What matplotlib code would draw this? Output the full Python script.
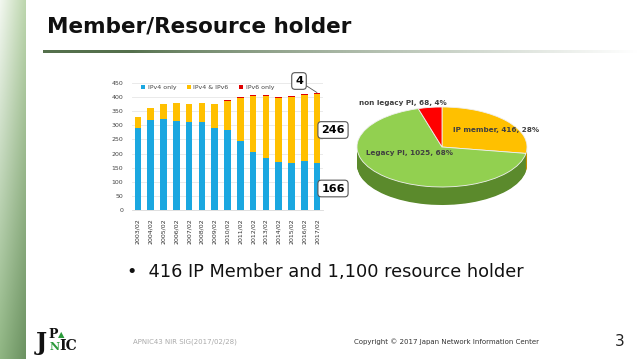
import numpy as np
import matplotlib
matplotlib.use("Agg")
import matplotlib.pyplot as plt

# ---------------- data ----------------
years = ["2003/02", "2004/02", "2005/02", "2006/02", "2007/02", "2008/02", "2009/02",
         "2010/02", "2011/02", "2012/02", "2013/02", "2014/02", "2015/02", "2016/02", "2017/02"]
ipv4_only = [292, 320, 321, 314, 311, 311, 291, 282, 244, 206, 184, 170, 168, 174, 166]
ipv4_ipv6 = [36, 43, 55, 64, 66, 69, 85, 105, 154, 197, 219, 227, 232, 233, 246]
ipv6_only = [0, 0, 0, 0, 0, 0, 0, 2, 2, 3, 3, 3, 3, 3, 4]
series_names = ["IPv4 only", "IPv4 & IPv6", "IPv6 only"]
y_ticks = [0, 50, 100, 150, 200, 250, 300, 350, 400, 450]

pie_labels = ["IP member", "Legacy PI", "non legacy PI"]
pie_values = [416, 1025, 68]
pie_pct = ["28%", "68%", "4%"]

W, H = 638, 359
fig = plt.figure(figsize=(W / 100, H / 100), dpi=100)
fig.patch.set_facecolor("white")

def fbox(l, t, r, b):
    return [l / W, 1 - b / H, (r - l) / W, (b - t) / H]

# ---------------- background decorations (pixel coords) ----------------
bg = fig.add_axes([0, 0, 1, 1])
bg.axis("off")

# left gradient bar
ny, nx = 200, 30
ty = np.linspace(0, 1, ny)[:, None]
tx = np.linspace(0, 1, nx)[None, :]
top_l = np.array([0.95, 0.97, 0.94]); top_r = np.array([0.74, 0.84, 0.68])
bot_l = np.array([0.56, 0.71, 0.51]); bot_r = np.array([0.42, 0.57, 0.38])
img = ((1 - ty) * (1 - tx))[..., None] * top_l + ((1 - ty) * tx)[..., None] * top_r \
    + (ty * (1 - tx))[..., None] * bot_l + (ty * tx)[..., None] * bot_r
bg.imshow(img, extent=(0, 26, H, 0), aspect="auto", interpolation="bilinear")

# title underline gradient
lx = np.linspace(0, 1, 300)
f = np.clip((lx - 0.15) / 0.85, 0, 1) ** 0.8
c0 = np.array([0.33, 0.44, 0.30]); c1 = np.array([1.0, 1.0, 1.0])
line_img = (f[:, None] * c1 + (1 - f)[:, None] * c0)[None, :, :]
bg.imshow(line_img, extent=(43, 638, 53, 50.5), aspect="auto", interpolation="bilinear")
bg.set_xlim(0, W)
bg.set_ylim(H, 0)

bg.text(47, 26, "Member/Resource holder", fontsize=15.5, fontweight="bold",
        family="DejaVu Sans", color="#111111", va="center", ha="left")

bg.text(127, 272, "\u2022  416 IP Member and 1,100 resource holder", fontsize=12.8,
        family="DejaVu Sans", color="#111111", va="center", ha="left")

# footer
bg.text(133, 342, "APNIC43 NIR SIG(2017/02/28)", fontsize=5, color="#aaaaaa",
        va="center", ha="left")
bg.text(354, 342, "Copyright \u00a9 2017 Japan Network Information Center", fontsize=5,
        color="#333333", va="center", ha="left")
bg.text(620, 342, "3", fontsize=11, color="#222222", va="center", ha="center")

# JPNIC logo (approximate)
bg.text(36, 350, "J", fontsize=17, family="DejaVu Serif", fontweight="bold",
        color="#111111", va="baseline", ha="left")
bg.text(48, 338, "P", fontsize=9, family="DejaVu Serif", fontweight="bold",
        color="#111111", va="baseline", ha="left")
bg.text(58, 337, "\u25b2", fontsize=6, color="#2a9a3a", va="baseline", ha="left")
bg.text(50, 350, "N", fontsize=8, family="DejaVu Serif", fontweight="bold",
        color="#2a9a3a", va="baseline", ha="left")
bg.text(59, 350, "IC", fontsize=10, family="DejaVu Serif", fontweight="bold",
        color="#111111", va="baseline", ha="left")

# ---------------- bar chart ----------------
ax = fig.add_axes(fbox(131.6, 83, 323.4, 210))
x = np.arange(len(years))
c_blue, c_yel, c_red = "#1aa7e0", "#ffc000", "#e00000"
b1 = np.array(ipv4_only)
b2 = np.array(ipv4_ipv6)
b3 = np.array(ipv6_only)
ax.bar(x, b1, width=0.52, color=c_blue, label=series_names[0], zorder=3)
ax.bar(x, b2, width=0.52, bottom=b1, color=c_yel, label=series_names[1], zorder=3)
ax.bar(x, b3, width=0.52, bottom=b1 + b2, color=c_red, label=series_names[2], zorder=3)
ax.set_xlim(-0.5, len(years) - 0.5)
ax.set_ylim(0, 450)
ax.set_yticks(y_ticks)
ax.set_yticklabels([str(v) for v in y_ticks], fontsize=4.5, color="#444444")
ax.set_xticks(x)
ax.set_xticklabels(years, rotation=90, fontsize=4.5, color="#333333")
ax.tick_params(length=0, pad=6)
ax.grid(axis="y", color="#e6e6e6", linewidth=0.6, zorder=0)
for s in ax.spines.values():
    s.set_visible(False)
ax.spines["bottom"].set_visible(True)
ax.spines["bottom"].set_color("#d9d9d9")
ax.spines["bottom"].set_linewidth(0.6)
leg = ax.legend(loc="upper left", bbox_to_anchor=(0.02, 1.03), ncol=3, frameon=False,
                fontsize=4.5, handlelength=0.7, handleheight=0.7, handletextpad=0.4,
                columnspacing=1.6)
for t in leg.get_texts():
    t.set_color("#444444")

# ---------------- pie chart (pseudo 3-D) ----------------
pax = fig.add_axes(fbox(357, 107, 527, 205))
depth = 0.45
pie_colors = ["#ffc000", "#92d050", "#ff0000"]
side_colors = ["#c48f00", "#5b8a2c", "#b00000"]
for d in np.linspace(depth, 0.02, 25):
    pax.pie(pie_values, colors=side_colors, startangle=90, counterclock=False,
            center=(0, -d), radius=1, wedgeprops=dict(linewidth=0))
pax.pie(pie_values, colors=pie_colors, startangle=90, counterclock=False,
        center=(0, 0), radius=1, wedgeprops=dict(linewidth=0.6, edgecolor="#f0f0f0"))
pax.set_aspect("auto")
pax.set_xlim(-1, 1)
pax.set_ylim(-1 - depth, 1)
pax.axis("off")

# ---------------- foreground overlay (labels & callouts) ----------------
fg = fig.add_axes([0, 0, 1, 1])
fg.set_xlim(0, W)
fg.set_ylim(H, 0)
fg.axis("off")
fg.patch.set_alpha(0)

lab = [f"{n}, {v}, {p}" for n, v, p in zip(pie_labels, pie_values, pie_pct)]
fg.text(496, 130, lab[0], fontsize=5.2, fontweight="bold", color="#404040", ha="center", va="center")
fg.text(410, 153, lab[1], fontsize=5.2, fontweight="bold", color="#404040", ha="center", va="center")
fg.text(403, 103, lab[2], fontsize=5.2, fontweight="bold", color="#404040", ha="center", va="center")

last = len(years) - 1
box = dict(boxstyle="round,pad=0.3,rounding_size=0.3", fc="white", ec="#555555", lw=0.8)
ax.annotate(str(ipv6_only[last]), xy=(last, b1[last] + b2[last] + b3[last]),
            xytext=(299 / W, 1 - 81 / H), textcoords="figure fraction",
            fontsize=8, fontweight="bold", ha="center", va="center", bbox=box,
            arrowprops=dict(arrowstyle="-", color="#555555", lw=0.6,
                            shrinkA=0, shrinkB=0), zorder=5, annotation_clip=False)
fg.text(333, 130, str(ipv4_ipv6[last]), fontsize=8, fontweight="bold",
        ha="center", va="center", bbox=box, zorder=5)
fg.text(333, 188.5, str(ipv4_only[last]), fontsize=8, fontweight="bold",
        ha="center", va="center", bbox=box, zorder=5)

fig.savefig("out.png", dpi=100)
